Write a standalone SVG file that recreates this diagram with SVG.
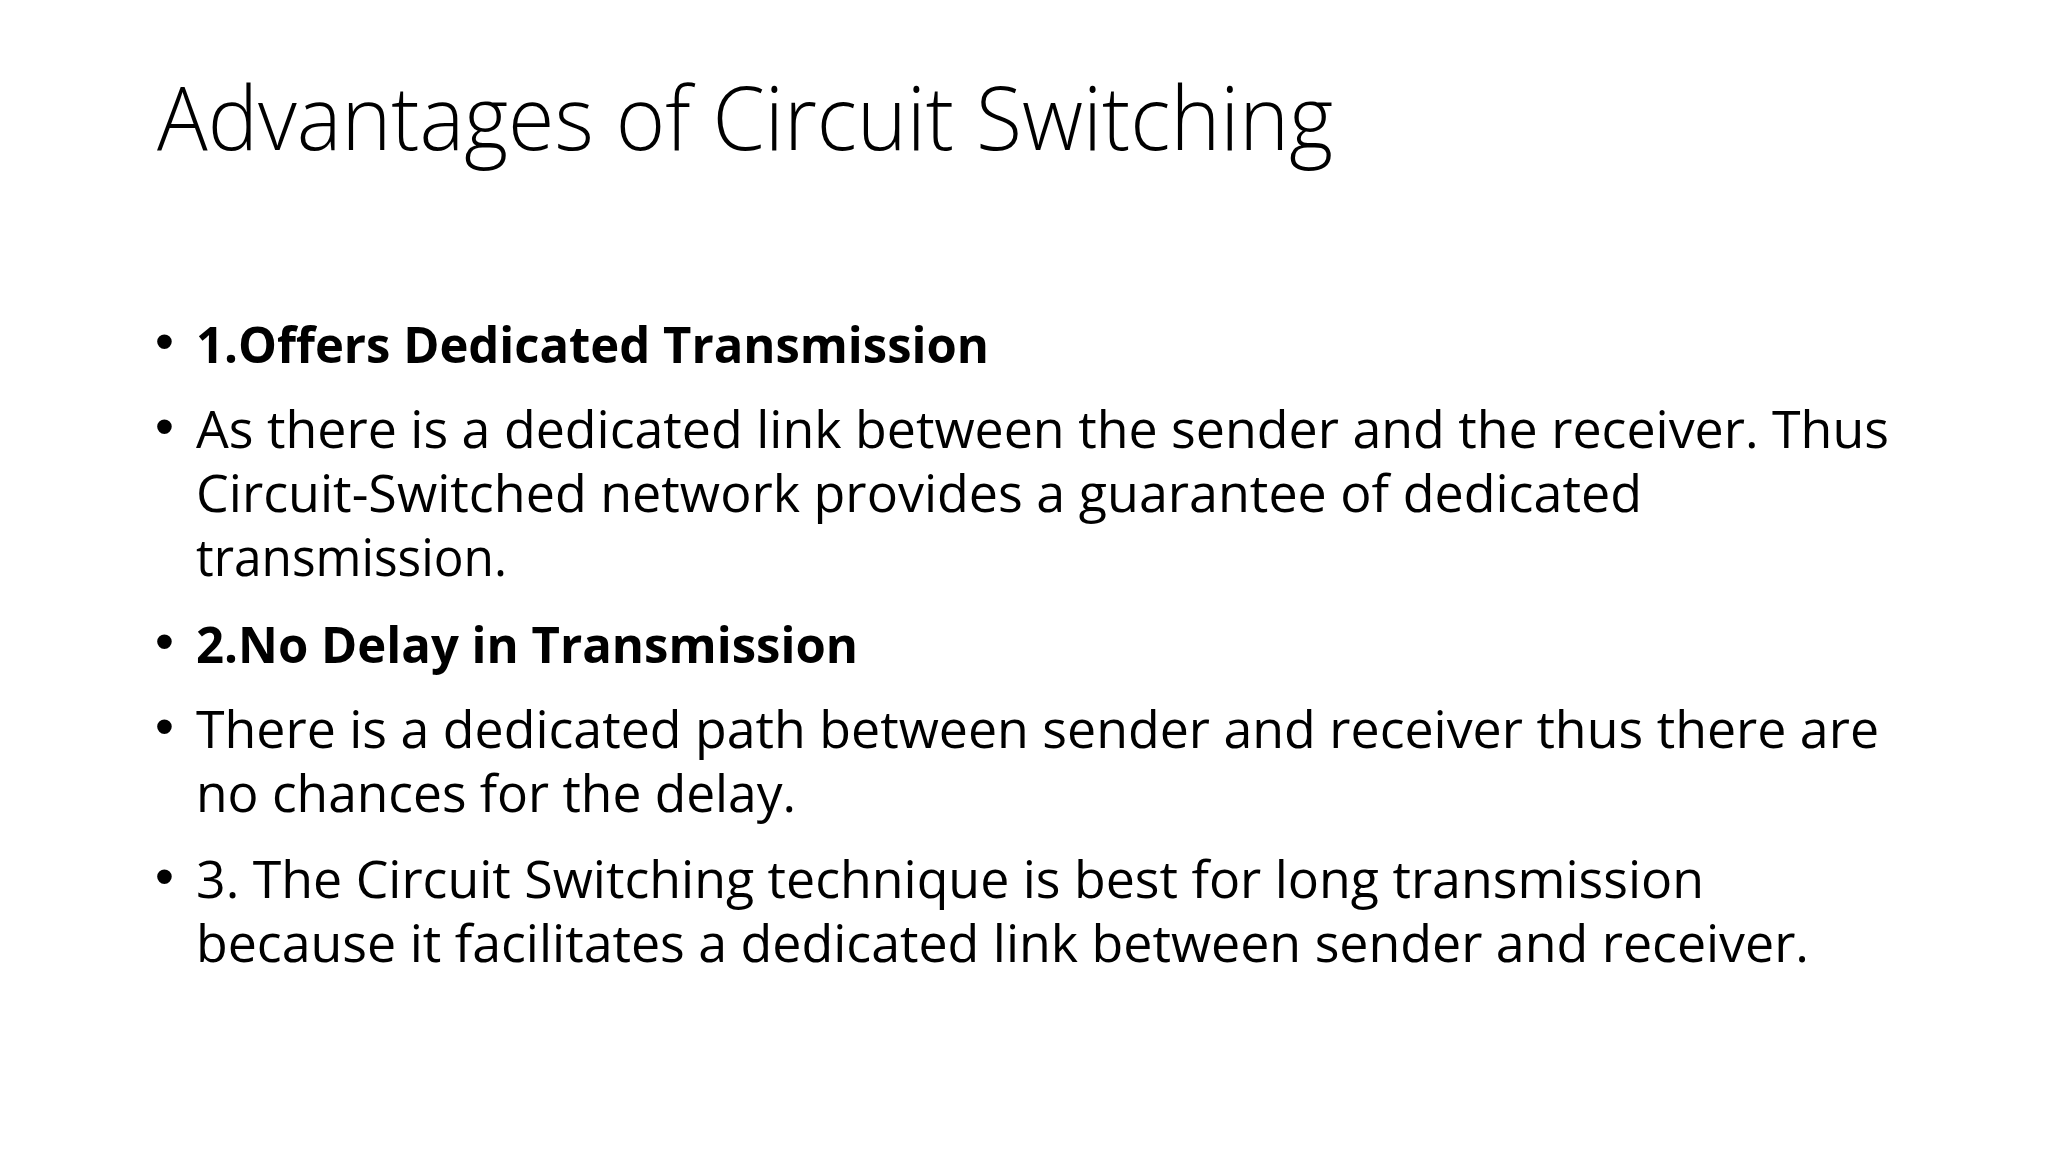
<svg xmlns="http://www.w3.org/2000/svg" width="2048" height="1152" viewBox="0 0 2048 1152">
<style>
.t{font-family:"Open Sans","Liberation Sans",sans-serif;font-weight:300;font-size:88px;fill:#000}
.b{font-family:"Open Sans","Liberation Sans",sans-serif;font-size:51px;fill:#000}
.bd{font-weight:bold}
.u{font-family:"Liberation Sans",sans-serif;font-size:54px}
</style>
<rect width="2048" height="1152" fill="#fff"/>
<text class="t" x="157" y="150" textLength="1176" lengthAdjust="spacingAndGlyphs">Advantages of Circuit Switching</text>
<g class="b">
<text x="155" y="360" class="u">•</text>
<text x="196" y="363" class="bd" textLength="793" lengthAdjust="spacingAndGlyphs">1.Offers Dedicated Transmission</text>
<text x="155" y="445" class="u">•</text>
<text x="196" y="448" textLength="1693" lengthAdjust="spacingAndGlyphs">As there is a dedicated link between the sender and the receiver. Thus</text>
<text x="196" y="512" textLength="1446" lengthAdjust="spacingAndGlyphs">Circuit-Switched network provides a guarantee of dedicated</text>
<text x="196" y="576" textLength="311" lengthAdjust="spacingAndGlyphs">transmission.</text>
<text x="155" y="660" class="u">•</text>
<text x="196" y="663" class="bd" textLength="662" lengthAdjust="spacingAndGlyphs">2.No Delay in Transmission</text>
<text x="155" y="745" class="u">•</text>
<text x="196" y="748" textLength="1683" lengthAdjust="spacingAndGlyphs">There is a dedicated path between sender and receiver thus there are</text>
<text x="196" y="812" textLength="600" lengthAdjust="spacingAndGlyphs">no chances for the delay.</text>
<text x="155" y="895" class="u">•</text>
<text x="196" y="898" textLength="1508" lengthAdjust="spacingAndGlyphs">3. The Circuit Switching technique is best for long transmission</text>
<text x="196" y="962" textLength="1613" lengthAdjust="spacingAndGlyphs">because it facilitates a dedicated link between sender and receiver.</text>
</g>
</svg>
